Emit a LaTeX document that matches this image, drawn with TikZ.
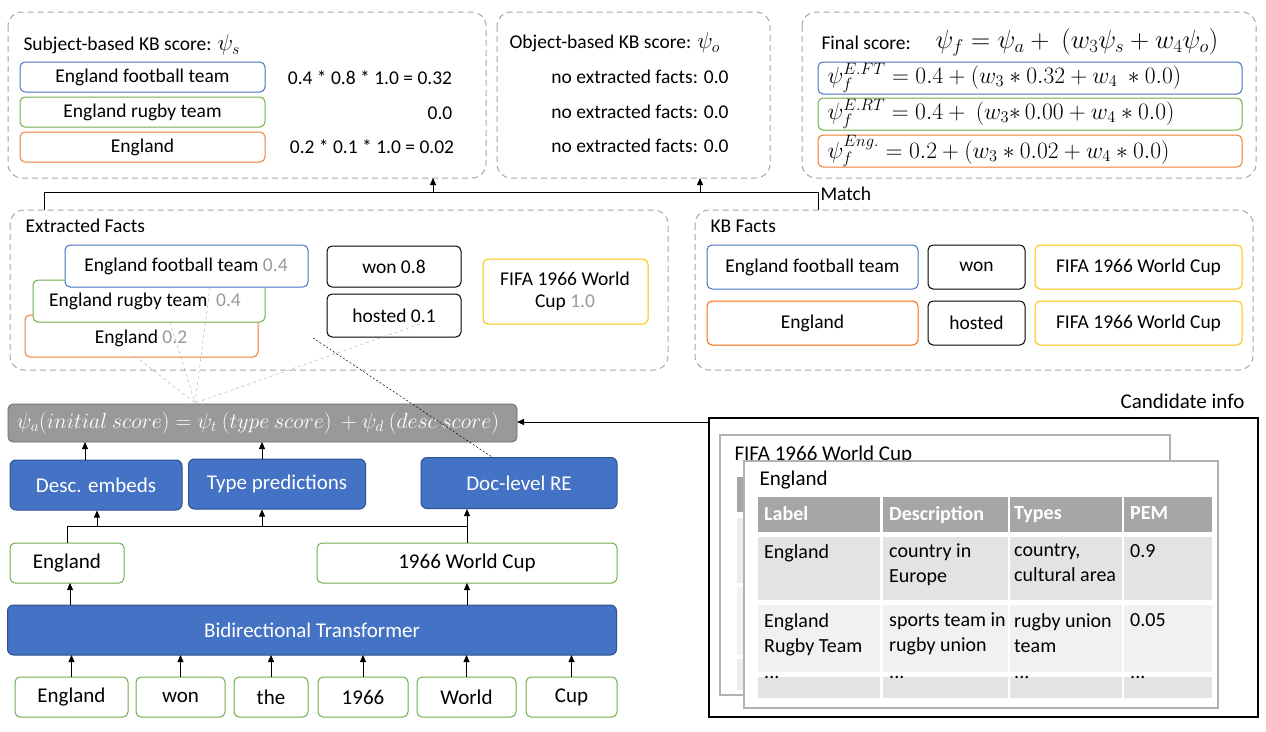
\RequirePackage{fix-cm}
\documentclass[tikz,border=0pt]{standalone}
\usepackage{fontspec}
\setmainfont{Carlito}
\usetikzlibrary{arrows.meta}
\definecolor{cblue}{HTML}{4472C4}
\definecolor{cbluebd}{HTML}{2F528F}
\definecolor{cgreen}{HTML}{70AD47}
\definecolor{corange}{HTML}{ED7D31}
\definecolor{cyellow}{HTML}{FFC000}
\definecolor{cgray}{HTML}{999999}
\newcommand{\fbig}{\fontsize{21}{24}\selectfont}
\newcommand{\fmath}{\fontsize{23.5}{26}\selectfont}
\begin{document}
\begin{tikzpicture}[x=1pt,y=-1pt,font=\fontsize{19.5}{22}\selectfont,
  grp/.style={draw=gray!70,dashed,line width=1pt,dash pattern=on 6pt off 4pt,rounded corners=14pt},
  bx/.style={draw=#1,line width=1pt,rounded corners=5pt,fill=white},
  bl/.style={draw=cbluebd,line width=1pt,fill=cblue,rounded corners=6pt,text=white},
  arr/.style={-{Triangle[length=7pt,width=6pt]},line width=0.8pt},
  gl/.style={gray!60,dashed,line width=0.5pt}]
\useasboundingbox (0,0) rectangle (1266,731);
% subject box
\draw[grp] (8,12) rectangle (486,178);
\node[anchor=west] (ts) at (20,45) {Subject-based KB score: {\fontsize{23}{25}\selectfont$\psi_s$}};
\draw[bx=cblue] (20,62) rectangle node (s1) {England football team} (265,92);
\draw[bx=cgreen] (20,97) rectangle node (s2) {England rugby team} (265,127);
\draw[bx=corange] (20,132) rectangle node (s3) {England} (265,162);
\node (v1) at (370,78) {0.4 * 0.8 * 1.0 = 0.32};
\node (v2) at (440,113) {0.0};
\node (v3) at (372,147) {0.2 * 0.1 * 1.0 = 0.02};
% object box
\draw[grp] (497,12) rectangle (770,178);
\node[anchor=west] (to) at (506,43) {Object-based KB score: {\fontsize{23}{25}\selectfont$\psi_o$}};
\node (o1) at (640,77) {no extracted facts: 0.0};
\node (o2) at (640,112) {no extracted facts: 0.0};
\node (o3) at (640,146) {no extracted facts: 0.0};
% final
\draw[grp] (802,12) rectangle (1256,178);
\node[anchor=west] (tf) at (818,43) {Final score:};
\node[anchor=west] (ff) at (932,42) {\fontsize{26.5}{28}\selectfont$\psi_f=\psi_a+\ (w_3\psi_s+w_4\psi_o)$};
\draw[bx=cblue] (818,62) rectangle (1242,94);
\node[anchor=west] (f1) at (824,78) {\fmath$\psi_f^{E.FT}=0.4+(w_3*0.32+w_4\ *0.0)$};
\draw[bx=cgreen] (818,98) rectangle (1242,130);
\node[anchor=west] (f2) at (824,114) {\fmath$\psi_f^{E.RT}=0.4+\ (w_3{*}\,0.00+w_4*0.0)$};
\draw[bx=corange] (818,135) rectangle (1242,167);
\node[anchor=west] (f3) at (824,151) {\fmath$\psi_f^{Eng.}=0.2+(w_3*0.02+w_4*0.0)$};
% match connectors
\coordinate (m1) at (44,210); \coordinate (m2) at (818,210);
\coordinate (a1) at (433,178); \coordinate (a2) at (700,178);
\draw[line width=0.9pt] (m1) |- (818,192) -- (m2);
\draw[arr] (433,192) -- (a1);
\draw[arr] (700,192) -- (a2);
\node[anchor=west] (mt) at (817,194) {Match};
% extracted facts
\draw[grp] (10,210) rectangle (668,370);
\node[anchor=west] (te) at (22,226) {Extracted Facts};
\draw[bx=corange] (25,315) rectangle (258,357);
\node (e3) at (141,338) {England \textcolor{gray!80}{0.2}};
\draw[bx=cgreen] (33,280) rectangle (265,322);
\node (e2) at (145,301) {England rugby team \ \textcolor{gray!80}{0.4}};
\draw[bx=cblue] (65,245) rectangle (308,287);
\node (e1) at (186,266) {England football team \textcolor{gray!80}{0.4}};
\draw[bx=black] (327,246) rectangle node (ew) {won 0.8} (461,287);
\draw[bx=black] (327,294) rectangle node (eh) {hosted 0.1} (461,337);
\draw[bx=cyellow] (483,259) rectangle (648,324);
\node[align=center] (ef) at (565,291) {FIFA 1966 World\\Cup \textcolor{gray!80}{1.0}};
% KB facts
\draw[grp] (695,210) rectangle (1253,370);
\node[anchor=west] (tk) at (707,226) {KB Facts};
\draw[bx=cblue] (707,245) rectangle node (k1) {England football team} (918,289);
\draw[bx=black] (928,245) rectangle node (k2) {won} (1025,289);
\draw[bx=cyellow] (1035,245) rectangle node (k3) {FIFA 1966 World Cup} (1242,289);
\draw[bx=orange!80!red] (707,301) rectangle node (k4) {England} (918,345);
\draw[bx=black] (928,301) rectangle node (k5) {hosted} (1025,345);
\draw[bx=cyellow] (1035,301) rectangle node (k6) {FIFA 1966 World Cup} (1242,345);
% psi_a
\draw[draw=gray!80!black,fill=cgray,line width=0.8pt,rounded corners=5pt] (8,404) rectangle (517,442);
\node[text=white] (pa) at (258,423) {\fontsize{21.8}{24}\selectfont$\psi_a(initial\ score)=\psi_t\ (type\ score)\ +\psi_d\ (desc\ score)$};
\coordinate (cv) at (195,403);
\draw[gl] (210,287) -- (cv);
\draw[gl] (170,322) -- (cv);
\draw[gl] (135,356) -- (cv);
\draw[gl] (420,324) -- (cv);
\draw[dashed,line width=0.5pt,dash pattern=on 2pt off 2pt] (313,338) -- (492,457);
% blue modules
\node[bl,minimum width=172pt,minimum height=50pt] (de) at (96,485) {\fbig Desc. embeds};
\node[bl,minimum width=177pt,minimum height=50pt] (tp) at (277,484) {\fbig Type predictions};
\node[bl,minimum width=196pt,minimum height=51pt] (dr) at (519,483) {\fbig Doc-level RE};
\draw[arr] (85,460) -- (85,442);
\draw[arr] (262,459) -- (262,442);
% mentions
\node[bx=cgreen,minimum width=114pt,minimum height=40pt] (me) at (67,563) {\fbig England};
\node[bx=cgreen,minimum width=300pt,minimum height=40pt] (mw) at (467,563) {\fbig 1966 World Cup};
\draw[line width=0.9pt] (me.north) |- (467,526) -- (mw.north);
\draw[arr] (97,526) -- (de.south-|97,0);
\draw[arr] (262,526) -- (tp.south-|262,0);
\draw[arr] (467,526) -- (dr.south-|467,0);
% transformer
\node[bl,minimum width=609pt,minimum height=50pt] (bt) at (312,630) {\fbig Bidirectional Transformer};
\draw[arr] (70,605) -- (70,583);
\draw[arr] (467,605) -- (467,583);
% tokens
\foreach \n/\a/\b/\t in {t1/15/128/England,t2/136/225/won,t3/234/308/the,t4/318/408/1966,t5/417/516/World,t6/526/617/Cup}{
  \draw[bx=cgreen] (\a,677) rectangle node (\n) {\fbig\t} (\b,717);
  \draw[arr] ({(\a+\b)/2},677) -- ({(\a+\b)/2},655);
}
% candidate info
\node[anchor=east] (ci) at (1248,401) {\fbig Candidate info};
\draw[line width=1.3pt] (709,418) rectangle (1258,717);
\coordinate (cl) at (709,422);
\draw[arr,line width=1pt] (cl) -- (517,422);
\draw[draw=gray!60,fill=white,line width=1.2pt] (720,435) rectangle (1170,695);
\node[anchor=west] (c1) at (731,455) {\fbig FIFA 1966 World Cup};
\fill[gray!70] (737,477) rectangle (748,512);
\fill[gray!15] (737,518) rectangle (748,583);
\fill[gray!10] (737,587) rectangle (748,655);
\fill[gray!15] (737,659) rectangle (748,690);
\draw[draw=gray!60,fill=white,line width=1.2pt] (744,461) rectangle (1218,708);
\node[anchor=west] (c2) at (756,480) {\fbig England};
\foreach \a/\b in {758/880,883/1008,1010/1122,1124/1212}{
  \fill[gray!70] (\a,497) rectangle (\b,532);
  \fill[gray!22] (\a,537) rectangle (\b,600);
  \fill[gray!11] (\a,605) rectangle (\b,672);
  \fill[gray!22] (\a,677) rectangle (\b,698);
}
\begin{scope}[every node/.style={anchor=north west,align=left,inner sep=2pt,font=\fontsize{20}{25}\selectfont}]
\node[text=white] (h1) at (762,504) {\textbf{Label}};
\node[text=white] (h2) at (887,504) {\textbf{Description}};
\node[text=white] (h3) at (1012,504) {\textbf{Types}};
\node[text=white] (h4) at (1128,504) {\textbf{PEM}};
\node (r11) at (762,542) {England};
\node (r12) at (887,542) {country in\\Europe};
\node (r13) at (1012,542) {country,\\cultural area};
\node (r14) at (1128,542) {0.9};
\node (r21) at (762,611) {England\\Rugby Team};
\node (r22) at (887,611) {sports team in\\rugby union};
\node (r23) at (1012,611) {rugby union\\team};
\node (r24) at (1128,611) {0.05};
\node (r31) at (762,674) {...};
\node (r32) at (887,674) {...};
\node (r33) at (1012,674) {...};
\node (r34) at (1128,674) {...};
\end{scope}
\end{tikzpicture}
\end{document}
